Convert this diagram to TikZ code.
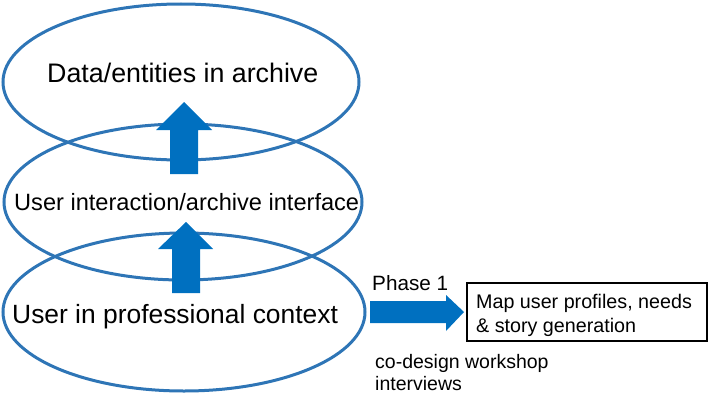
\documentclass[tikz,border=0pt]{standalone}
\usepackage{fontspec}
\setmainfont{Liberation Sans}
\begin{document}
\begin{tikzpicture}[x=1pt,y=-1pt,
  ring/.style={draw=ringblue,line width=3pt,ellipse,inner sep=0pt},
  blockarrow/.style={fill=arrowblue,draw=none},
  lbl/.style={anchor=base west,inner sep=0pt,text=black},
  box/.style={draw=black,line width=1.8pt,inner sep=0pt}]
\definecolor{ringblue}{RGB}{46,117,182}
\definecolor{arrowblue}{RGB}{0,112,192}
\useasboundingbox (0,0) rectangle (711,396);
% ellipses
\draw[draw=ringblue,line width=3pt] (184,312) ellipse [x radius=181, y radius=79];
\coordinate (e3) at (184,312);
\draw[draw=ringblue,line width=3pt] (183,202) ellipse [x radius=179, y radius=78];
\coordinate (e2) at (183,202);
\draw[draw=ringblue,line width=3pt] (181,82) ellipse [x radius=178, y radius=78];
\coordinate (e1) at (181,82);
% texts
\node[lbl,font=\fontsize{26.8}{30}\selectfont] (t1) at (47,82) {Data/entities in archive};
\node[lbl,font=\fontsize{23.6}{27}\selectfont] (t2) at (14,210) {User interaction/archive interface};
\node[lbl,font=\fontsize{26.4}{30}\selectfont] (t3) at (12,323) {User in professional context};
% block arrows
\fill[blockarrow] (170,174) -- (170,130) -- (156,130) -- (184,102) -- (212,130) -- (198,130) -- (198,174) -- cycle;
\fill[blockarrow] (172,293) -- (172,249) -- (158,249) -- (186,222) -- (213,249) -- (200,249) -- (200,293) -- cycle;
\fill[blockarrow] (370,301) -- (446,301) -- (446,295) -- (464,312) -- (446,331) -- (446,323) -- (370,323) -- cycle;
% phase label
\node[lbl,font=\fontsize{20.7}{24}\selectfont] (ph) at (372,290) {Phase 1};
% box
\draw[box] (467,283) rectangle (707,341);
\coordinate (bx) at (467,312);
\node[lbl,font=\fontsize{19.7}{24}\selectfont] (b1) at (476,308) {Map user profiles, needs};
\node[lbl,font=\fontsize{19.7}{24}\selectfont] (b2) at (476,332) {\& story generation};
% notes
\node[lbl,font=\fontsize{19.5}{22}\selectfont] (n1) at (375,368) {co-design workshop};
\node[lbl,font=\fontsize{19.5}{22}\selectfont] (n2) at (375,390) {interviews};
\end{tikzpicture}
\end{document}
